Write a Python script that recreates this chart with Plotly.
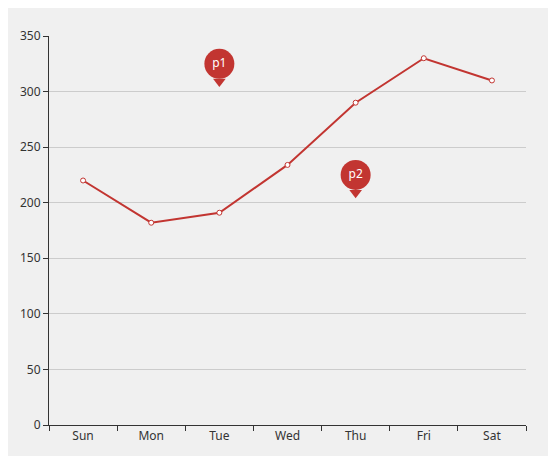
import plotly.graph_objects as go

days = ["Sun", "Mon", "Tue", "Wed", "Thu", "Fri", "Sat"]
values = [220, 182, 191, 234, 290, 330, 310]
pin_names = ["p1", "p2"]
pin_x = ["Tue", "Thu"]
pin_y = [300, 200]

RED = "#c23531"

fig = go.Figure()
fig.add_trace(go.Scatter(
    x=days, y=values, mode="lines+markers",
    line=dict(color=RED, width=2),
    marker=dict(symbol="circle", size=5, color="white", line=dict(color=RED, width=1)),
    hoverinfo="x+y",
))
# pin tail
fig.add_trace(go.Scatter(
    x=pin_x, y=[v + 9 for v in pin_y], mode="markers",
    marker=dict(symbol="triangle-down", size=11, color=RED, line=dict(width=0)),
    hoverinfo="skip",
))
# pin head with label
fig.add_trace(go.Scatter(
    x=pin_x, y=[v + 25 for v in pin_y], mode="markers+text",
    text=pin_names, textposition="middle center",
    textfont=dict(color="white", size=12, family="Noto Sans"),
    marker=dict(symbol="circle", size=30, color=RED, line=dict(width=0)),
    hoverinfo="skip",
))

axis_font = dict(family="Noto Sans", size=12, color="#333")
fig.update_layout(
    width=540, height=448,
    margin=dict(l=40, r=22, t=28, b=19),
    paper_bgcolor="#f0f0f0", plot_bgcolor="#f0f0f0",
    showlegend=False,
    font=axis_font,
    xaxis=dict(
        type="category", showgrid=False, showline=True, linecolor="#333",
        ticks="outside", tickson="boundaries", ticklen=5, tickcolor="#333",
        tickfont=axis_font, range=[-0.5, 6.5],
    ),
    yaxis=dict(
        range=[0, 350], dtick=50, showgrid=True, gridcolor="#ccc",
        showline=True, linecolor="#333", ticks="outside", ticklen=5,
        tickcolor="#333", tickfont=axis_font, zeroline=False,
    ),
)

fig.write_html("out.html", config={"displayModeBar": False})
